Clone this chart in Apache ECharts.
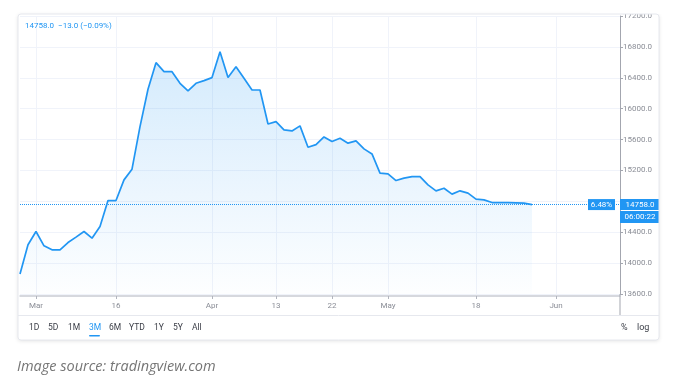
<!DOCTYPE html>
<html>
<head>
<meta charset="utf-8">
<script src="https://cdn.jsdelivr.net/npm/echarts@6/dist/echarts.min.js"></script>
<style>
html,body{margin:0;padding:0;background:#fff;}
#c{width:676px;height:382px;}
</style>
</head>
<body>
<div id="c"></div>
<script>
// Trading-day categories (weekdays)
const dates = [
'2020-02-27','2020-02-28',
'2020-03-02','2020-03-03','2020-03-04','2020-03-05','2020-03-06',
'2020-03-09','2020-03-10','2020-03-11','2020-03-12','2020-03-13',
'2020-03-16','2020-03-17','2020-03-18','2020-03-19','2020-03-20',
'2020-03-23','2020-03-24','2020-03-25','2020-03-26','2020-03-27',
'2020-03-30','2020-03-31','2020-04-01','2020-04-02','2020-04-03',
'2020-04-06','2020-04-07','2020-04-08','2020-04-09','2020-04-10',
'2020-04-13','2020-04-14','2020-04-15','2020-04-16','2020-04-17',
'2020-04-20','2020-04-21','2020-04-22','2020-04-23','2020-04-24',
'2020-04-27','2020-04-28','2020-04-29','2020-04-30','2020-05-01',
'2020-05-04','2020-05-05','2020-05-06','2020-05-07','2020-05-08',
'2020-05-11','2020-05-12','2020-05-13','2020-05-14','2020-05-15',
'2020-05-18','2020-05-19','2020-05-20','2020-05-21','2020-05-22',
'2020-05-25','2020-05-26','2020-05-27','2020-05-28','2020-05-29',
'2020-06-01','2020-06-02','2020-06-03','2020-06-04','2020-06-05',
'2020-06-08','2020-06-09','2020-06-10','2020-06-11'
];
// Close values
const closes = [
13858,14237,14409,14224,14172,14172,14266,14336,14409,14323,
14474,14810,14810,15078,15216,15768,16251,16596,16479,16479,
16329,16230,16329,16363,16402,16738,16403,16544,16394,16242,
16242,15802,15832,15725,15712,15777,15501,15535,15634,15575,
15617,15553,15583,15479,15414,15165,15156,15069,15100,15121,
15121,15013,14936,14970,14893,14936,14906,14828,14819,14784,
14784,14782,14780,14776,14758
];
// x-axis tick labels
const tickDates  = ['2020-03-02','2020-03-16','2020-04-01','2020-04-13','2020-04-22','2020-05-01','2020-05-18','2020-06-01'];
const tickLabels = ['Mar','16','Apr','13','22','May','18','Jun'];
// y-axis ticks
const yMin = 13600, yMax = 17200, yStep = 400;
// header / badge texts
const headerText = '14758.0  \u221213.0 (\u22120.09%)';
const pctText = '6.48%';
const priceText = '14758.0';
const timerText = '06:00:22';
const ranges = ['1D','5D','1M','3M','6M','YTD','1Y','5Y','All'];
const activeRange = '3M';

const BLUE = '#2196f3';
const GRID = '#f0f3fa';
const TXT = '#8a8d96';
const FONT = 'Roboto, "DejaVu Sans", sans-serif';

const chart = echarts.init(document.getElementById('c'), null, {renderer:'canvas'});
const isTick = (idx, val) => tickDates.indexOf(val) >= 0;
const last = closes[closes.length-1];

chart.setOption({
  animation: false,
  grid: {left: 20, width: 600, top: 16, bottom: 88, containLabel: false},
  xAxis: {
    type: 'category', data: dates, boundaryGap: false, offset: 2,
    axisLine: {show: true, lineStyle: {color: '#c9ccd4', width: 1.5}},
    axisTick: {show: true, interval: isTick, length: 3, lineStyle: {color: '#b2b5be'}},
    axisLabel: {interval: isTick, margin: 6, fontSize: 8, color: TXT, fontFamily: FONT,
      formatter: v => tickLabels[tickDates.indexOf(v)] || ''},
    splitLine: {show: true, interval: isTick, lineStyle: {color: GRID, width: 1}}
  },
  yAxis: {
    type: 'value', position: 'right', min: yMin, max: yMax, interval: yStep,
    axisLine: {show: true, lineStyle: {color: '#a3a6af', width: 1}},
    axisTick: {show: true, length: 3, lineStyle: {color: '#a3a6af'}},
    axisLabel: {margin: 3, fontSize: 8, color: TXT, fontFamily: FONT,
      formatter: v => (Math.abs(v - last) < 150 ? '' : v.toFixed(1))},
    splitLine: {show: true, lineStyle: {color: GRID, width: 1}}
  },
  series: [{
    type: 'line', data: closes, symbol: 'none', smooth: false,
    lineStyle: {color: BLUE, width: 1.7},
    areaStyle: {color: new echarts.graphic.LinearGradient(0,0,0,1,[
      {offset: 0, color: 'rgba(33,150,243,0.28)'},
      {offset: 1, color: 'rgba(33,150,243,0.01)'}
    ])},
    markLine: {
      silent: true, symbol: ['none','none'], label: {show: false},
      lineStyle: {color: BLUE, type: [1,1], width: 1},
      data: [{yAxis: last}]
    }
  }]
});

const y = chart.convertToPixel({yAxisIndex: 0}, last);
const gridBottom = chart.convertToPixel({yAxisIndex: 0}, yMin);
const axisX = chart.convertToPixel({xAxisIndex: 0}, dates[dates.length-1]);

const gfx = [];
// card background with shadow
gfx.push({type:'rect', z:-10, shape:{x:18, y:14, width:641, height:326, r:3},
  style:{fill:'#fff', shadowBlur:4, shadowColor:'rgba(0,0,0,0.12)', shadowOffsetY:1}});
// clip area above card
gfx.push({type:'rect', z:100, shape:{x:590, y:0, width:86, height:14}, style:{fill:'#fff'}});
// card border
gfx.push({type:'rect', z:101, shape:{x:18, y:14, width:641, height:326, r:3},
  style:{fill:null, stroke:'#e6e8ee', lineWidth:1}});
// axis line extension and separator
gfx.push({type:'line', z:50, shape:{x1:axisX, y1:gridBottom, x2:axisX, y2:315}, style:{stroke:'#a3a6af', lineWidth:1}});
gfx.push({type:'line', z:50, shape:{x1:18, y1:315.5, x2:659, y2:315.5}, style:{stroke:'#e6e8ee', lineWidth:1}});
// header
gfx.push({type:'text', z:60, x:25, y:26, style:{text:headerText, fill:BLUE, font:'8px '+FONT, verticalAlign:'middle'}});
// badges
gfx.push({type:'rect', z:60, shape:{x:588, y:y-5.5, width:27, height:11}, style:{fill:BLUE}});
gfx.push({type:'text', z:61, x:601.5, y:y, style:{text:pctText, fill:'#fff', font:'8px '+FONT, align:'center', verticalAlign:'middle'}});
gfx.push({type:'rect', z:60, shape:{x:axisX, y:y-5.5, width:39, height:11}, style:{fill:BLUE}});
gfx.push({type:'text', z:61, x:axisX+20, y:y, style:{text:priceText, fill:'#fff', font:'8px '+FONT, align:'center', verticalAlign:'middle'}});
gfx.push({type:'rect', z:60, shape:{x:axisX, y:y+6.5, width:39, height:12}, style:{fill:BLUE}});
gfx.push({type:'text', z:61, x:axisX+20, y:y+12.5, style:{text:timerText, fill:'#fff', font:'8px '+FONT, align:'center', verticalAlign:'middle'}});
// range buttons
const rx = [29,48,68,89,109,129,154,173,192];
ranges.forEach((r,i)=>{
  const act = r === activeRange;
  gfx.push({type:'text', z:60, x:rx[i], y:328, style:{text:r, fill: act ? BLUE : '#3b3e47', font:'8.5px '+FONT, verticalAlign:'middle'}});
  if (act) gfx.push({type:'rect', z:60, shape:{x:rx[i], y:335, width:11, height:1.6, r:0.8}, style:{fill:BLUE}});
});
gfx.push({type:'text', z:60, x:621, y:328, style:{text:'%', fill:'#3b3e47', font:'9px '+FONT, verticalAlign:'middle'}});
gfx.push({type:'text', z:60, x:637, y:328, style:{text:'log', fill:'#3b3e47', font:'9px '+FONT, verticalAlign:'middle'}});
// source caption
gfx.push({type:'text', z:60, x:17, y:367, style:{text:'Image source: tradingview.com', fill:'#757575', font:'italic 14.5px "Open Sans", Lato, sans-serif', verticalAlign:'middle'}});

chart.setOption({graphic: gfx});
</script>
</body>
</html>
